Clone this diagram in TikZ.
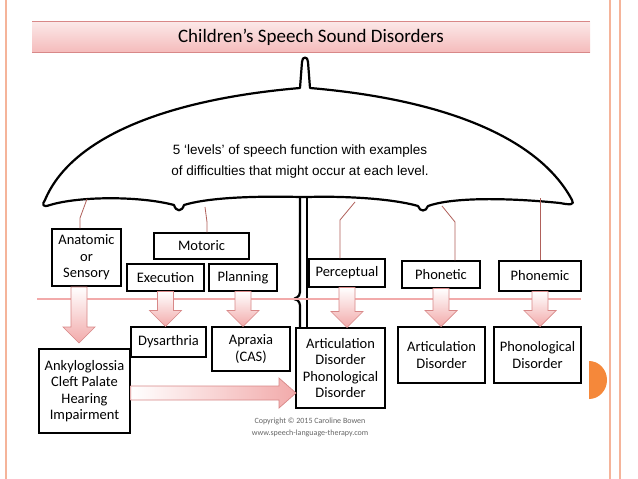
\documentclass[tikz,border=0pt]{standalone}
\usepackage{fontspec}
\setmainfont{Carlito}
\newfontfamily\arialf{Liberation Sans}
\definecolor{pinkA}{HTML}{F2AAAA}
\definecolor{pinkB}{HTML}{D88888}
\definecolor{strc}{HTML}{B0605A}
\definecolor{bord}{HTML}{F5B49A}
\definecolor{orng}{HTML}{F5883A}
\tikzset{
  box/.style={draw=black,line width=1.3pt,fill=white,align=center,font=\fontsize{14.5}{16.5}\selectfont,inner sep=1pt},
  str/.style={draw=strc,line width=0.8pt},
  arr/.style={top color=white,bottom color=pinkA,draw=pinkB,line width=0.7pt},
  harr/.style={left color=white,right color=pinkA,draw=pinkB,line width=0.7pt}
}
\newcommand\dnarr[3]{\shade[arr] (#1-8,#2) -- (#1+8,#2) -- (#1+8,#3-16) -- (#1+16,#3-16) -- (#1,#3) -- (#1-16,#3-16) -- (#1-8,#3-16) -- cycle;}
\begin{document}
\begin{tikzpicture}[x=1pt,y=-1pt]
\useasboundingbox (0,0) rectangle (638,479);
\fill[white] (0,0) rectangle (638,479);
% borders
\draw[bord,line width=1.2pt] (6,0) -- (6,479);
\draw[bord,line width=1.2pt] (610,0) -- (610,479);
\draw[bord,line width=2pt] (620,0) -- (620,479);
% title band
\shade[top color=pinkA!25,bottom color=pinkA!80] (32,21) rectangle (590,52);
\draw[pinkB,line width=0.6pt] (32,21) -- (590,21);
\draw[pinkB,line width=0.8pt] (32,52) -- (590,52);
\node[font=\fontsize{19}{21}\selectfont] (title) at (311,37) {Children’s Speech Sound Disorders};
% umbrella canopy
\draw[line width=2.2pt,line join=round]
  (45,200) .. controls (70,140) and (160,100) .. (300,88)
  -- (302,62) .. controls (302,56) and (308,56) .. (308,62) -- (310,88)
  .. controls (450,100) and (540,140) .. (572,200)
  .. controls (575,205) and (570,205) .. (560,203)
  .. controls (500,197) and (450,198) .. (428,206)
  .. controls (426,212) and (420,212) .. (418,206)
  .. controls (390,198) and (340,196) .. (308,197)
  -- (300,197)
  .. controls (260,196) and (210,197) .. (184,205)
  .. controls (182,212) and (176,212) .. (174,205)
  .. controls (140,196) and (80,196) .. (50,205)
  .. controls (42,208) and (42,204) .. (45,200);
\node[font=\arialf\fontsize{13.5}{21}\selectfont,align=center] (cap) at (300,162) {5 ‘levels’ of speech function with examples\\of difficulties that might occur at each level.};
% shaft
\draw[line width=2.2pt] (307,198) -- (307,328);
\draw[line width=2.2pt] (300,198) -- (300,292) .. controls (300,298) and (294,298) .. (294,299) .. controls (300,300) and (300,304) .. (300,308) -- (300,370);
% pink line
\draw[pinkA,line width=2.2pt] (37,299) -- (581,299);
% boxes
\node[box,minimum width=69pt,minimum height=57pt] (anat) at (86.5,257.5) {Anatomic\\or\\Sensory};
\node[box,minimum width=95pt,minimum height=26pt] (motor) at (201.5,246) {Motoric};
\node[box,minimum width=77pt,minimum height=27pt] (exec) at (165.5,277.5) {Execution};
\node[box,minimum width=68pt,minimum height=27pt] (plan) at (243,277.5) {Planning};
\node[box,minimum width=76pt,minimum height=28pt] (perc) at (347,273) {Perceptual};
\node[box,minimum width=78pt,minimum height=27pt] (phonet) at (441,274.5) {Phonetic};
\node[box,minimum width=82pt,minimum height=30pt] (phonem) at (540,276) {Phonemic};
\node[box,minimum width=75pt,minimum height=30pt] (dys) at (168.5,342) {Dysarthria};
\node[box,minimum width=78pt,minimum height=44pt] (aprax) at (251,349) {Apraxia\\(CAS)};
\node[box,minimum width=89pt,minimum height=80pt] (artphon) at (340.5,368) {Articulation\\Disorder\\Phonological\\Disorder};
\node[box,minimum width=87pt,minimum height=56pt] (artdis) at (441.5,355) {Articulation\\Disorder};
\node[box,minimum width=87pt,minimum height=56pt] (phondis) at (537.5,355) {Phonological\\Disorder};
\node[box,minimum width=91pt,minimum height=84pt] (ankylo) at (84.5,391) {Ankyloglossia\\Cleft Palate\\Hearing\\Impairment};
% arrows
\dnarr{79}{287}{343}
\dnarr{165.5}{291.5}{326.5}
\dnarr{243}{291.5}{326.5}
\dnarr{347}{287.5}{327.5}
\dnarr{441}{288.5}{326.5}
\dnarr{540}{291.5}{326.5}
\shade[harr] (130.7,386) -- (279,386) -- (279,378) -- (296,393) -- (279,408) -- (279,400) -- (130.7,400) -- cycle;
% strings
\draw[str] (87,199) -- (80,218) -- (anat.north -| 80,0);
\draw[str] (205,207) -- (207,222) -- (motor.north -| 207,0);
\draw[str] (355,202) -- (340,220) -- (perc.north -| 340,0);
\draw[str] (442,206) -- (455,222) -- (phonet.north -| 455,0);
\draw[str] (540,198) -- (phonem.north -| 540,0);
% copyright
\node[font=\fontsize{8}{12}\selectfont,text=black!60,align=center] (copy) at (310,427) {Copyright © 2015 Caroline Bowen\\www.speech-language-therapy.com};
% orange half disc
\fill[orng] (589,399) arc (90:-90:18 and 19) -- cycle;
\end{tikzpicture}
\end{document}
